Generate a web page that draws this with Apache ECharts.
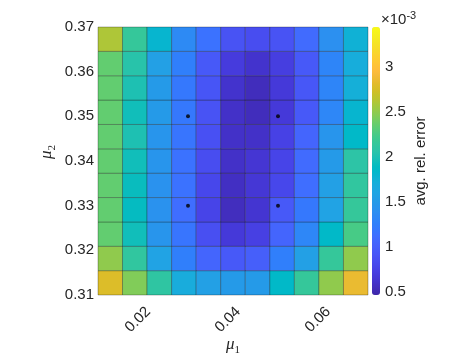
<!DOCTYPE html>
<html>
<head>
<meta charset="utf-8">
<script src="https://cdn.jsdelivr.net/npm/echarts@6/dist/echarts.min.js"></script>
<style>html,body{margin:0;padding:0;background:#fff}#c{width:474px;height:355px}</style>
</head>
<body>
<div id="c"></div>
<script>
// cell edges (11 x 11 cells)
const mu1Edges = [0.01, 0.01545, 0.02091, 0.02636, 0.03182, 0.03727, 0.04273, 0.04818, 0.05364, 0.05909, 0.06455, 0.07];
const mu2Edges = [0.31, 0.31545, 0.32091, 0.32636, 0.33182, 0.33727, 0.34273, 0.34818, 0.35364, 0.35909, 0.36455, 0.37];
// avg. rel. error (x1e-3), rows from mu2 = 0.31 (bottom) to 0.37 (top)
const errRow0  = [2.78, 2.45, 2.10, 1.68, 1.55, 1.50, 1.50, 1.85, 2.15, 2.50, 2.85];
const errRow1  = [2.50, 2.12, 1.58, 1.25, 1.05, 0.95, 1.00, 1.25, 1.55, 2.15, 2.50];
const errRow2  = [2.35, 1.95, 1.45, 1.18, 0.87, 0.68, 0.74, 1.05, 1.32, 1.85, 2.25];
const errRow3  = [2.35, 1.90, 1.42, 1.12, 0.78, 0.56, 0.64, 0.95, 1.20, 1.58, 2.15];
const errRow4  = [2.35, 1.92, 1.42, 1.15, 0.80, 0.58, 0.66, 0.80, 1.12, 1.55, 2.12];
const errRow5  = [2.35, 1.95, 1.45, 1.15, 0.85, 0.60, 0.65, 0.78, 1.10, 1.50, 2.08];
const errRow6  = [2.35, 2.00, 1.45, 1.18, 0.88, 0.60, 0.60, 0.75, 1.05, 1.45, 1.85];
const errRow7  = [2.35, 1.95, 1.50, 1.20, 0.90, 0.60, 0.55, 0.68, 0.95, 1.32, 1.80];
const errRow8  = [2.35, 2.00, 1.50, 1.20, 0.92, 0.62, 0.55, 0.68, 0.93, 1.30, 1.72];
const errRow9  = [2.35, 2.05, 1.55, 1.25, 0.95, 0.70, 0.62, 0.72, 0.95, 1.30, 1.70];
const errRow10 = [2.60, 2.15, 1.80, 1.35, 1.15, 0.90, 0.85, 0.90, 1.10, 1.40, 1.75];
const errRows = [errRow0, errRow1, errRow2, errRow3, errRow4, errRow5, errRow6, errRow7, errRow8, errRow9, errRow10];
// marked sample points
const ptsMu1 = [0.03, 0.05, 0.03, 0.05];
const ptsMu2 = [0.33, 0.33, 0.35, 0.35];
// ticks
const xTicks = [0.02, 0.04, 0.06];
const yTicks = [0.31, 0.32, 0.33, 0.34, 0.35, 0.36, 0.37];
const cbTicks = [0.5, 1, 1.5, 2, 2.5, 3];
const cbMin = 0.47, cbMax = 3.44;

const parula = ['#3e26a8','#402ab4','#422ebf','#4332cb','#4537d5','#463cde','#4741e5','#4747eb','#484df0','#4852f4','#4758f8','#465efa','#4563fc','#4269fe','#3e6fff','#3875fe','#327cfc','#2f81fa','#2e87f7','#2d8cf3','#2b91ef','#2796eb','#259be7','#23a0e5','#20a5e3','#1ca9df','#18addb','#12b1d6','#08b4d0','#01b8ca','#02bac3','#0bbdbc','#19bfb6','#24c1ae','#2cc4a7','#31c69f','#37c897','#3fca8e','#4acb84','#57cc7a','#64cd6f','#72cd64','#81cc59','#8fca4e','#9dc943','#abc739','#b9c431','#c5c22a','#d1bf27','#dcbd29','#e6bb2d','#efba36','#f8ba3d','#febd3c','#fec338','#fec934','#fccf30','#f9d62d','#f7dc2a','#f5e327','#f5e924','#f5ef20','#f7f51b','#f9fb15'];

const cells = [];
for (let j = 0; j < errRows.length; j++) {
  for (let i = 0; i < errRows[j].length; i++) {
    cells.push([mu1Edges[i], mu1Edges[i + 1], mu2Edges[j], mu2Edges[j + 1], errRows[j][i]]);
  }
}
const pts = ptsMu1.map((x, k) => [x, ptsMu2[k]]);

const FONT = '"Liberation Sans", Arial, Helvetica, sans-serif';
const SERIF = '"Liberation Serif", "DejaVu Serif", serif';
const muRich = {
  m: {fontFamily: SERIF, fontStyle: 'italic', fontSize: 17, color: '#262626', lineHeight: 18, verticalAlign: 'bottom'},
  s: {fontFamily: SERIF, fontSize: 11, color: '#262626', lineHeight: 18, verticalAlign: 'bottom', padding: [0, 0, -3, 0]}
};

const chart = echarts.init(document.getElementById('c'), null, {renderer: 'canvas'});
chart.setOption({
  animation: false,
  backgroundColor: '#fff',
  grid: [
    {left: 98, top: 27, width: 270, height: 268, outerBoundsMode: 'none', containLabel: false},
    {left: 372, top: 27, width: 8, height: 268, outerBoundsMode: 'none', containLabel: false}
  ],
  xAxis: [{
    type: 'value', gridIndex: 0, min: 0.01, max: 0.07,
    axisLine: {show: false}, axisTick: {show: false}, splitLine: {show: false},
    axisLabel: {
      customValues: xTicks, rotate: 45, margin: 9, verticalAlign: 'top',
      fontFamily: FONT, fontSize: 15, color: '#262626',
      formatter: v => v.toFixed(2)
    },
    name: '{m|μ}{s|1}', nameLocation: 'middle', nameGap: 40, nameMoveOverlap: false,
    nameTextStyle: {rich: muRich}
  }, {
    type: 'value', gridIndex: 1, min: 0, max: 1, show: false
  }],
  yAxis: [{
    type: 'value', gridIndex: 0, min: 0.31, max: 0.37,
    axisLine: {show: false}, axisTick: {show: false}, splitLine: {show: false},
    axisLabel: {
      customValues: yTicks, margin: 4,
      fontFamily: FONT, fontSize: 15, color: '#262626',
      formatter: v => v.toFixed(2)
    },
    name: '{m|μ}{s|2}', nameLocation: 'middle', nameGap: 43, nameRotate: 90, nameMoveOverlap: false,
    nameTextStyle: {rich: muRich, padding: [0, 0, 0, 18]}
  }, {
    type: 'value', gridIndex: 1, position: 'right', min: cbMin, max: cbMax,
    axisLine: {show: false}, axisTick: {show: false}, splitLine: {show: false},
    axisLabel: {
      customValues: cbTicks, margin: 5,
      fontFamily: FONT, fontSize: 15, color: '#262626',
      formatter: v => String(v)
    },
    name: 'avg. rel. error', nameLocation: 'middle', nameGap: 33, nameRotate: 90,
    nameTextStyle: {fontFamily: FONT, fontSize: 15, color: '#262626'}
  }],
  visualMap: {
    type: 'continuous', min: cbMin, max: cbMax, dimension: 4, seriesIndex: 0,
    orient: 'vertical', left: 372, top: 27, itemWidth: 8, itemHeight: 268,
    padding: 0, text: null, calculable: false, hoverLink: false,
    inRange: {color: parula}
  },
  graphic: [{
    type: 'text', left: 381, top: 10,
    style: {
      text: '×10{sup|-3}', fontFamily: FONT, fontSize: 15, fill: '#262626',
      rich: {sup: {fontFamily: FONT, fontSize: 11, fill: '#262626', verticalAlign: 'top', padding: [0, 0, 8, 0]}}
    }
  }],
  series: [{
    type: 'custom', xAxisIndex: 0, yAxisIndex: 0,
    encode: {x: [0, 1], y: [2, 3]},
    data: cells,
    renderItem: function (params, api) {
      const p0 = api.coord([api.value(0), api.value(3)]);
      const p1 = api.coord([api.value(1), api.value(2)]);
      return {
        type: 'rect',
        shape: {x: p0[0], y: p0[1], width: p1[0] - p0[0], height: p1[1] - p0[1]},
        style: {fill: api.visual('color'), stroke: 'rgba(0,0,0,0.35)', lineWidth: 0.8}
      };
    }
  }, {
    type: 'scatter', xAxisIndex: 0, yAxisIndex: 0,
    data: pts, symbolSize: 4, itemStyle: {color: '#000'}, z: 5, silent: true
  }]
});
</script>
</body>
</html>
